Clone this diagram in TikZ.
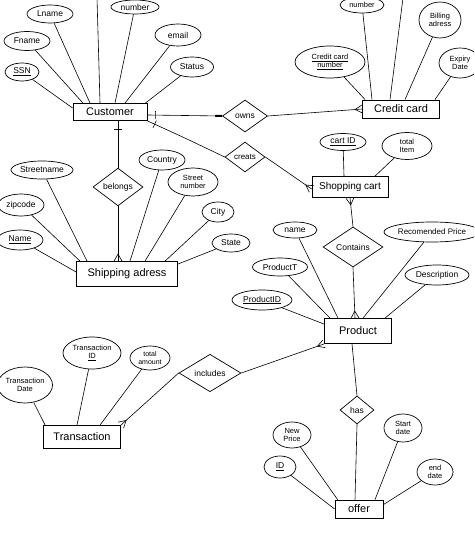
\documentclass[tikz,border=0pt]{standalone}
\usepackage{fontspec}
\setmainfont{Liberation Sans}
\usetikzlibrary{shapes.geometric,calc}
\tikzset{
  ent/.style={draw, rectangle, line width=0.8pt, inner sep=1pt, font=\fontsize{11}{12}\selectfont},
  att/.style={draw, ellipse, line width=0.7pt, inner sep=0pt, align=center, font=\fontsize{8.5}{9}\selectfont},
  att2/.style={att, font=\fontsize{7.5}{8}\selectfont},
  rel/.style={draw, diamond, line width=0.7pt, inner sep=0pt, font=\fontsize{8.5}{9}\selectfont},
  con/.style={line width=0.6pt}
}
\newcommand\crowfoot[2]{%
  \path (#1) -- (#2) coordinate[pos=0] (cfA);
  \draw[con] ($(cfA)!7pt!(#2)$) -- ($(cfA)!4pt!90:(#2)$);
  \draw[con] ($(cfA)!7pt!(#2)$) -- ($(cfA)!4pt!-90:(#2)$);
}
\newcommand\onetick[2]{%
  \path (#1) -- (#2) coordinate[pos=0] (tkA);
  \coordinate (tkP) at ($(tkA)!8pt!(#2)$);
  \draw[con] ($(tkP)!4pt!90:(#2)$) -- ($(tkP)!4pt!-90:(#2)$);
}
\begin{document}
\begin{tikzpicture}[x=1pt,y=-1pt]
\useasboundingbox (0,0) rectangle (474,534);
\clip (0,0) rectangle (474,534);
\fill[white] (0,0) rectangle (474,534);

% entities
\node[ent, minimum width=74pt, minimum height=17pt] (cust) at (110,112) {Customer};
\node[ent, minimum width=77pt, minimum height=18pt] (cc) at (401,109) {Credit card};
\node[ent, minimum width=76pt, minimum height=21pt, font=\fontsize{10}{11}\selectfont] (cart) at (350,187) {Shopping cart};
\node[ent, minimum width=101pt, minimum height=25pt] (ship) at (127,274) {Shipping adress};
\node[ent, minimum width=67pt, minimum height=25pt] (prod) at (358,331) {Product};
\node[ent, minimum width=77pt, minimum height=23pt] (tr) at (82,437) {Transaction};
\node[ent, minimum width=48pt, minimum height=18pt] (offer) at (359,509) {offer};

% relationships
\node[rel, minimum width=45pt, minimum height=32pt] (owns) at (245,116) {owns};
\node[rel, minimum width=40pt, minimum height=30pt, font=\fontsize{8}{9}\selectfont] (creates) at (245,157) {creats};
\node[rel, minimum width=50pt, minimum height=36pt] (belongs) at (118,187) {belongs};
\node[rel, minimum width=60pt, minimum height=40pt] (contains) at (353,247) {Contains};
\node[rel, minimum width=62pt, minimum height=34pt] (includes) at (210,373) {includes};
\node[rel, minimum width=34pt, minimum height=28pt] (has) at (357,410) {has};

% customer attributes
\node[att, minimum width=46pt, minimum height=18pt] (lname) at (50,14) {Lname};
\node[att, minimum width=46pt, minimum height=19pt] (fname) at (27,41) {Fname};
\node[att, minimum width=34pt, minimum height=18pt] (ssn) at (22,72) {\underline{SSN}};
\node[att, minimum width=48pt, minimum height=14pt] (cnum) at (135,7) {number};
\node[att, minimum width=46pt, minimum height=22pt] (email) at (178,35) {email};
\node[att, minimum width=43pt, minimum height=20pt] (status) at (192,67) {Status};
\coordinate (custtop) at (97,-2);

% credit card attributes
\node[att2, minimum width=70pt, minimum height=32pt] (ccnum) at (330,62) {\underline{Credit card}\\\underline{number}};
\node[att2, minimum width=44pt, minimum height=16pt] (ccsec) at (362,5) {number};
\coordinate (cctop) at (403,-2);
\node[att2, minimum width=42pt, minimum height=36pt] (billing) at (440,20) {Billing\\adress};
\node[att2, minimum width=42pt, minimum height=30pt] (expiry) at (460,63) {Expiry\\Date};

% cart attributes
\node[att, minimum width=46pt, minimum height=17pt] (cartid) at (343,142) {\underline{cart ID}};
\node[att2, minimum width=50pt, minimum height=27pt] (total) at (407,146) {total\\Item};

% shipping attributes
\node[att, minimum width=58pt, minimum height=18pt] (stname) at (42,170) {Streetname};
\node[att, minimum width=46pt, minimum height=22pt] (zip) at (21,205) {zipcode};
\node[att, minimum width=46pt, minimum height=20pt] (sname) at (20,240) {\underline{Name}};
\node[att, minimum width=46pt, minimum height=20pt] (country) at (162,160) {Country};
\node[att2, minimum width=50pt, minimum height=28pt] (stnum) at (193,182) {Street\\number};
\node[att, minimum width=32pt, minimum height=20pt] (city) at (218,212) {City};
\node[att, minimum width=38pt, minimum height=18pt] (state) at (231,243) {State};

% product attributes
\node[att, minimum width=44pt, minimum height=16pt] (pname) at (295,230) {name};
\node[att, minimum width=55pt, minimum height=18pt] (pt) at (280,267) {ProductT};
\node[att, minimum width=60pt, minimum height=20pt] (pid) at (262,300) {\underline{ProductID}};
\node[att, minimum width=86pt, minimum height=20pt, font=\fontsize{8}{9}\selectfont] (rec) at (432,232) {Recomended Price};
\node[att, minimum width=64pt, minimum height=20pt] (desc) at (437,275) {Description};

% transaction attributes
\node[att2, minimum width=58pt, minimum height=32pt] (tid) at (92,353) {Transaction\\\underline{ID}};
\node[att2, minimum width=40pt, minimum height=24pt, font=\fontsize{7}{7.5}\selectfont] (tamt) at (150,358) {total\\amount};
\node[att2, minimum width=54pt, minimum height=36pt] (tdate) at (25,385) {Transaction\\Date};

% offer attributes
\node[att2, minimum width=38pt, minimum height=26pt] (newp) at (292,435) {New\\Price};
\node[att, minimum width=32pt, minimum height=22pt] (oid) at (280,467) {\underline{ID}};
\node[att2, minimum width=38pt, minimum height=28pt] (start) at (403,428) {Start\\date};
\node[att2, minimum width=36pt, minimum height=26pt] (endd) at (435,472) {end\\date};

% attribute connectors
\draw[con] (lname) -- ([xshift=-20pt]cust.north);
\draw[con] (fname) -- ([xshift=-27pt]cust.north);
\draw[con] (ssn) -- ([yshift=4pt]cust.west);
\draw[con] (cnum) -- ([xshift=5pt]cust.north);
\draw[con] (custtop) -- ([xshift=-10pt]cust.north);
\draw[con] (email) -- ([xshift=15pt]cust.north);
\draw[con] (status) -- ([xshift=-2pt]cust.north east);

\draw[con] (ccnum) -- ([xshift=3pt]cc.north west);
\draw[con] (ccsec) -- ([xshift=-29pt]cc.north);
\draw[con] (cctop) -- ([xshift=-11pt]cc.north);
\draw[con] (billing) -- ([xshift=4pt]cc.north);
\draw[con] (expiry) -- ([xshift=34pt]cc.north);

\draw[con] (cartid) -- ([xshift=-6pt]cart.north);
\draw[con] (total) -- ([xshift=25pt]cart.north);

\draw[con] (stname) -- ([xshift=-40pt]ship.north);
\draw[con] (zip) -- ([xshift=-47pt]ship.north);
\draw[con] (sname) -- ([yshift=2pt]ship.west);
\draw[con] (country) -- ([xshift=3pt]ship.north);
\draw[con] (stnum) -- ([xshift=18pt]ship.north);
\draw[con] (city) -- ([xshift=38pt]ship.north);
\draw[con] (state) -- ([yshift=-3pt]ship.north east);

\draw[con] (pname) -- ([xshift=-20pt]prod.north);
\draw[con] (pt) -- ([xshift=-28pt]prod.north);
\draw[con] (pid) -- ([yshift=-6pt]prod.north west);
\draw[con] (rec) -- ([xshift=5pt]prod.north);
\draw[con] (desc) -- ([xshift=27pt]prod.north);

\draw[con] (tdate) -- ([xshift=2pt]tr.north west);
\draw[con] (tid) -- ([xshift=-5pt]tr.north);
\draw[con] (tamt) -- ([xshift=18pt]tr.north);

\draw[con] (newp) -- ([xshift=3pt]offer.north west);
\draw[con] (oid) -- (offer.west);
\draw[con] (start) -- ([xshift=16pt]offer.north);
\draw[con] (endd) -- ([yshift=-5pt]offer.north east);

% relationship connectors
\draw[con] ([yshift=-3pt]cust.east) -- (owns.west);
\onetick{[yshift=-3pt]cust.east}{owns.west}
\draw[line width=2pt] ($(owns.west)!7pt!([yshift=-3pt]cust.east)$) -- (owns.west);
\draw[con] (owns.east) -- (cc.west);
\crowfoot{cc.west}{owns.east}

\draw[con] (cust.south east) .. controls (185,138) .. (creates.west);
\onetick{cust.south east}{185,138}
\draw[con] (creates.east) -- ([yshift=-2pt]cart.west);
\crowfoot{[yshift=-2pt]cart.west}{creates.east}

\draw[con] ([xshift=8pt]cust.south) -- (belongs.north);
\onetick{[xshift=8pt]cust.south}{belongs.north}
\draw[con] (belongs.south) -- ([xshift=-9pt]ship.north);
\crowfoot{[xshift=-9pt]ship.north}{belongs.south}

\draw[con] (cart.south) -- (contains.north);
\crowfoot{cart.south}{contains.north}
\draw[con] (contains.south) -- ([xshift=-3pt]prod.north);
\crowfoot{[xshift=-3pt]prod.north}{contains.south}

\draw[con] (tr.north east) -- (includes.west);
\crowfoot{tr.north east}{includes.west}
\draw[con] (includes.east) -- (prod.south west);
\crowfoot{prod.south west}{includes.east}

\draw[con] ([xshift=-6pt]prod.south) -- (has.north);
\draw[con] (has.south) -- ([xshift=-4pt]offer.north);
\end{tikzpicture}
\end{document}
